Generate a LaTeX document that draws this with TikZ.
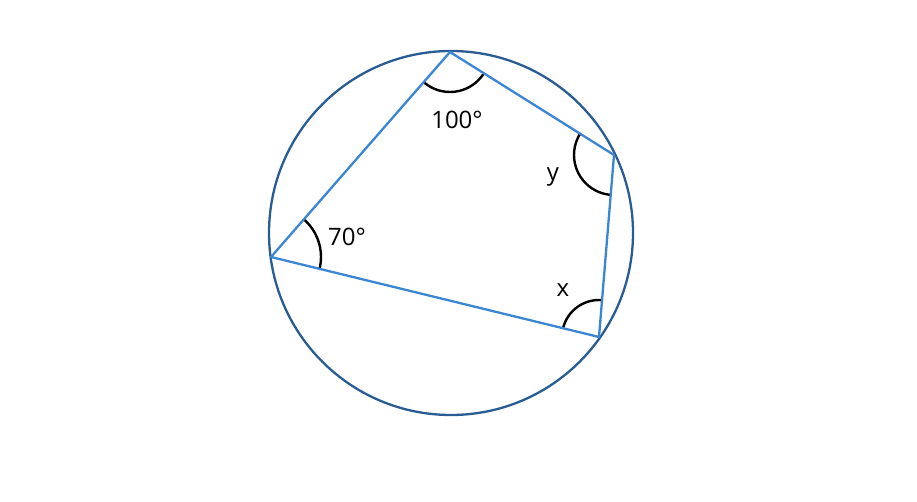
\documentclass[tikz,border=0pt]{standalone}
\usepackage{fontspec}
\setmainfont{Open Sans}
\definecolor{circ}{HTML}{2A5C94}
\definecolor{quad}{HTML}{3A86D4}
\begin{document}
\begin{tikzpicture}[x=1pt,y=-1pt,
  circline/.style={draw=circ,line width=2.3pt},
  quadline/.style={draw=quad,line width=2.3pt,line join=round},
  anglearc/.style={draw=black,line width=2.4pt},
  lbl/.style={font=\fontsize{24}{28}\selectfont,text=black,inner sep=0pt}]
\useasboundingbox (0,0) rectangle (917,502);
\coordinate (O) at (451,233);
\coordinate (A) at (450,52);
\coordinate (B) at (614,155);
\coordinate (C) at (599,337);
\coordinate (D) at (271,257);
\draw[circline] (O) circle (182);
% angle arcs
\begin{scope}
\clip (A) -- (B) -- (C) -- (D) -- cycle;
\draw[anglearc] (A) circle (40);
\draw[anglearc] (B) circle (40);
\draw[anglearc] (C) circle (37);
\draw[anglearc] (D) circle (50);
\end{scope}
\draw[quadline] (A) -- (B) -- (C) -- (D) -- cycle;
\node[lbl] (l100) at (457,120) {100°};
\node[lbl] (l70) at (347,237) {70°};
\node[lbl] (ly) at (553,177) {y};
\node[lbl] (lx) at (563,290) {x};
\end{tikzpicture}
\end{document}
